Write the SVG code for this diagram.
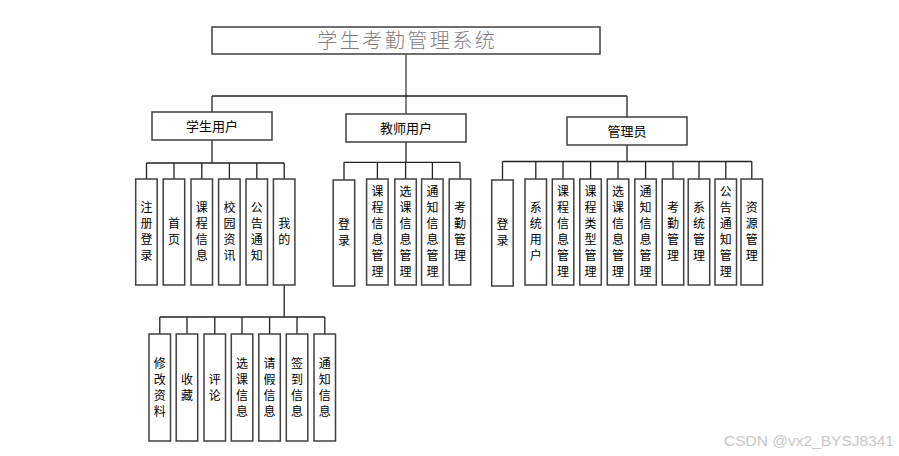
<svg xmlns="http://www.w3.org/2000/svg" width="899" height="456" viewBox="0 0 899 456">
<style>
.b{fill:#fff;stroke:#404040;stroke-width:1.5}
.c{fill:none;stroke:#222;stroke-width:1.3}
.t{font-family:"Noto Sans CJK SC","Noto Sans CJK JP",sans-serif;font-size:12px;fill:#000;text-anchor:middle}
.h{font-family:"Noto Sans CJK SC","Noto Sans CJK JP",sans-serif;font-size:13px;fill:#000;text-anchor:middle}
</style>
<rect width="899" height="456" fill="#fff"/>
<g id="connectors">
<path d="M406,54V114" stroke="#808080" stroke-width="2" fill="none"/>
<path class="c" d="M212,96H627M212,96V112M627,96V117"/>
<path class="c" d="M212,140V163M146.5,163H284.2M146.5,163V179M174,163V179M201.8,163V179M229.4,163V179M256.8,163V179M284.2,163V179"/>
<path class="c" d="M406,142V162.3M344,162.3H460M344,162.3V180M377.4,162.3V179M405.6,162.3V179M432.4,162.3V179M460,162.3V179"/>
<path class="c" d="M627,145V161.5M502.5,161.5H751.8M502.5,161.5V180M535.8,161.5V179M563,161.5V179M590.6,161.5V179M618,161.5V179M645.6,161.5V179M673,161.5V179M699,161.5V179M725.8,161.5V179M751.8,161.5V179"/>
<path class="c" d="M284.2,285V317M159.8,317H324.8M159.8,317V334M187,317V334M214.8,317V334M242,317V334M269.6,317V334M297,317V334M324.8,317V334"/>
</g>
<g id="root"><rect class="b" x="212" y="27" width="388" height="27"/><text x="407.2" y="48" font-family="Noto Sans CJK SC,sans-serif" font-size="20" letter-spacing="2.5" fill="#808080" font-weight="300" text-anchor="middle">学生考勤管理系统</text></g>
<g id="student"><rect class="b" x="152" y="112" width="120" height="28"/><text class="h" x="212" y="131">学生用户</text></g>
<g id="teacher"><rect class="b" x="346" y="114" width="120" height="28"/><text class="h" x="406" y="133">教师用户</text></g>
<g id="admin"><rect class="b" x="567" y="117" width="120" height="28"/><text class="h" x="627" y="135.5">管理员</text></g>

<g id="s1"><rect class="b" x="135.7" y="179" width="21.5" height="106"/><text class="t" x="146.5" y="212.4">注<tspan x="146.5" dy="16">册</tspan><tspan x="146.5" dy="16">登</tspan><tspan x="146.5" dy="16">录</tspan></text></g>
<g id="s2"><rect class="b" x="163.2" y="179" width="21.5" height="106"/><text class="t" x="174" y="228.4">首<tspan x="174" dy="16">页</tspan></text></g>
<g id="s3"><rect class="b" x="191" y="179" width="21.5" height="106"/><text class="t" x="201.8" y="212.4">课<tspan x="201.8" dy="16">程</tspan><tspan x="201.8" dy="16">信</tspan><tspan x="201.8" dy="16">息</tspan></text></g>
<g id="s4"><rect class="b" x="218.6" y="179" width="21.5" height="106"/><text class="t" x="229.4" y="212.4">校<tspan x="229.4" dy="16">园</tspan><tspan x="229.4" dy="16">资</tspan><tspan x="229.4" dy="16">讯</tspan></text></g>
<g id="s5"><rect class="b" x="246" y="179" width="21.5" height="106"/><text class="t" x="256.8" y="212.4">公<tspan x="256.8" dy="16">告</tspan><tspan x="256.8" dy="16">通</tspan><tspan x="256.8" dy="16">知</tspan></text></g>
<g id="s6"><rect class="b" x="273.4" y="179" width="21.5" height="106"/><text class="t" x="284.2" y="228.4">我<tspan x="284.2" dy="16">的</tspan></text></g>

<g id="m1"><rect class="b" x="149" y="334" width="21.5" height="107"/><text class="t" x="159.8" y="367.9">修<tspan x="159.8" dy="16">改</tspan><tspan x="159.8" dy="16">资</tspan><tspan x="159.8" dy="16">料</tspan></text></g>
<g id="m2"><rect class="b" x="176.2" y="334" width="21.5" height="107"/><text class="t" x="187" y="383.9">收<tspan x="187" dy="16">藏</tspan></text></g>
<g id="m3"><rect class="b" x="204" y="334" width="21.5" height="107"/><text class="t" x="214.8" y="383.9">评<tspan x="214.8" dy="16">论</tspan></text></g>
<g id="m4"><rect class="b" x="231.3" y="334" width="21.5" height="107"/><text class="t" x="242" y="367.9">选<tspan x="242" dy="16">课</tspan><tspan x="242" dy="16">信</tspan><tspan x="242" dy="16">息</tspan></text></g>
<g id="m5"><rect class="b" x="258.8" y="334" width="21.5" height="107"/><text class="t" x="269.6" y="367.9">请<tspan x="269.6" dy="16">假</tspan><tspan x="269.6" dy="16">信</tspan><tspan x="269.6" dy="16">息</tspan></text></g>
<g id="m6"><rect class="b" x="286.3" y="334" width="21.5" height="107"/><text class="t" x="297" y="367.9">签<tspan x="297" dy="16">到</tspan><tspan x="297" dy="16">信</tspan><tspan x="297" dy="16">息</tspan></text></g>
<g id="m7"><rect class="b" x="314" y="334" width="21.5" height="107"/><text class="t" x="324.8" y="367.9">通<tspan x="324.8" dy="16">知</tspan><tspan x="324.8" dy="16">信</tspan><tspan x="324.8" dy="16">息</tspan></text></g>

<g id="t1"><rect class="b" x="333.2" y="180" width="21.5" height="106"/><text class="t" x="344" y="229.4">登<tspan x="344" dy="16">录</tspan></text></g>
<g id="t2"><rect class="b" x="366.6" y="179" width="21.5" height="106"/><text class="t" x="377.4" y="196.4">课<tspan x="377.4" dy="16">程</tspan><tspan x="377.4" dy="16">信</tspan><tspan x="377.4" dy="16">息</tspan><tspan x="377.4" dy="16">管</tspan><tspan x="377.4" dy="16">理</tspan></text></g>
<g id="t3"><rect class="b" x="394.8" y="179" width="21.5" height="106"/><text class="t" x="405.6" y="196.4">选<tspan x="405.6" dy="16">课</tspan><tspan x="405.6" dy="16">信</tspan><tspan x="405.6" dy="16">息</tspan><tspan x="405.6" dy="16">管</tspan><tspan x="405.6" dy="16">理</tspan></text></g>
<g id="t4"><rect class="b" x="421.6" y="179" width="21.5" height="106"/><text class="t" x="432.4" y="196.4">通<tspan x="432.4" dy="16">知</tspan><tspan x="432.4" dy="16">信</tspan><tspan x="432.4" dy="16">息</tspan><tspan x="432.4" dy="16">管</tspan><tspan x="432.4" dy="16">理</tspan></text></g>
<g id="t5"><rect class="b" x="449.2" y="179" width="21.5" height="106"/><text class="t" x="460" y="212.4">考<tspan x="460" dy="16">勤</tspan><tspan x="460" dy="16">管</tspan><tspan x="460" dy="16">理</tspan></text></g>

<g id="a1"><rect class="b" x="491.7" y="180" width="21.5" height="106"/><text class="t" x="502.5" y="229.4">登<tspan x="502.5" dy="16">录</tspan></text></g>
<g id="a2"><rect class="b" x="525" y="179" width="21.5" height="106"/><text class="t" x="535.8" y="212.4">系<tspan x="535.8" dy="16">统</tspan><tspan x="535.8" dy="16">用</tspan><tspan x="535.8" dy="16">户</tspan></text></g>
<g id="a3"><rect class="b" x="552.3" y="179" width="21.5" height="106"/><text class="t" x="563" y="196.4">课<tspan x="563" dy="16">程</tspan><tspan x="563" dy="16">信</tspan><tspan x="563" dy="16">息</tspan><tspan x="563" dy="16">管</tspan><tspan x="563" dy="16">理</tspan></text></g>
<g id="a4"><rect class="b" x="579.8" y="179" width="21.5" height="106"/><text class="t" x="590.6" y="196.4">课<tspan x="590.6" dy="16">程</tspan><tspan x="590.6" dy="16">类</tspan><tspan x="590.6" dy="16">型</tspan><tspan x="590.6" dy="16">管</tspan><tspan x="590.6" dy="16">理</tspan></text></g>
<g id="a5"><rect class="b" x="607.3" y="179" width="21.5" height="106"/><text class="t" x="618" y="196.4">选<tspan x="618" dy="16">课</tspan><tspan x="618" dy="16">信</tspan><tspan x="618" dy="16">息</tspan><tspan x="618" dy="16">管</tspan><tspan x="618" dy="16">理</tspan></text></g>
<g id="a6"><rect class="b" x="634.8" y="179" width="21.5" height="106"/><text class="t" x="645.6" y="196.4">通<tspan x="645.6" dy="16">知</tspan><tspan x="645.6" dy="16">信</tspan><tspan x="645.6" dy="16">息</tspan><tspan x="645.6" dy="16">管</tspan><tspan x="645.6" dy="16">理</tspan></text></g>
<g id="a7"><rect class="b" x="662.2" y="179" width="21.5" height="106"/><text class="t" x="673" y="212.4">考<tspan x="673" dy="16">勤</tspan><tspan x="673" dy="16">管</tspan><tspan x="673" dy="16">理</tspan></text></g>
<g id="a8"><rect class="b" x="688.2" y="179" width="21.5" height="106"/><text class="t" x="699" y="212.4">系<tspan x="699" dy="16">统</tspan><tspan x="699" dy="16">管</tspan><tspan x="699" dy="16">理</tspan></text></g>
<g id="a9"><rect class="b" x="715" y="179" width="21.5" height="106"/><text class="t" x="725.8" y="196.4">公<tspan x="725.8" dy="16">告</tspan><tspan x="725.8" dy="16">通</tspan><tspan x="725.8" dy="16">知</tspan><tspan x="725.8" dy="16">管</tspan><tspan x="725.8" dy="16">理</tspan></text></g>
<g id="a10"><rect class="b" x="741" y="179" width="21.5" height="106"/><text class="t" x="751.8" y="212.4">资<tspan x="751.8" dy="16">源</tspan><tspan x="751.8" dy="16">管</tspan><tspan x="751.8" dy="16">理</tspan></text></g>

<text x="894" y="446" font-family="Liberation Sans,Arial,sans-serif" font-size="15.5" fill="#c8c8c8" text-anchor="end">CSDN @vx2_BYSJ8341</text>
</svg>
